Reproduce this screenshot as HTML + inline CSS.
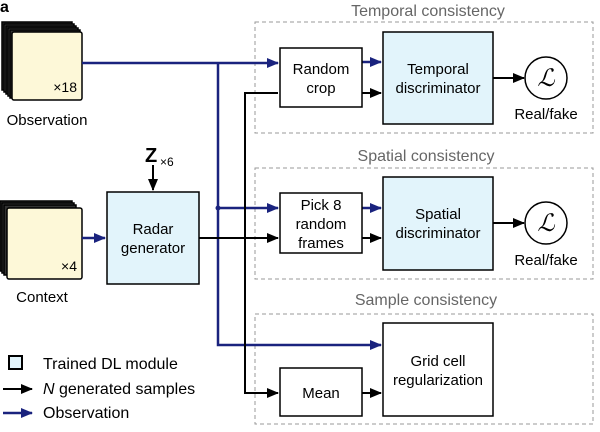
<!DOCTYPE html>
<html><head><style>
body{margin:0;background:#fff;}
svg text{font-family:"Liberation Sans",sans-serif;}
</style></head><body>
<svg width="600" height="427" viewBox="0 0 600 427" xmlns="http://www.w3.org/2000/svg">
<defs>
<marker id="ab" markerWidth="12" markerHeight="10" refX="11" refY="5" orient="auto" markerUnits="userSpaceOnUse"><path d="M0,0 L12,5 L0,10 Z" fill="#000"/></marker>
<marker id="au" markerWidth="12" markerHeight="10" refX="11" refY="5" orient="auto" markerUnits="userSpaceOnUse"><path d="M0,0 L12,5 L0,10 Z" fill="#1a237e"/></marker>
</defs>
<text x="0" y="12" font-size="16" font-weight="bold">a</text>
<g stroke="#000" stroke-width="1.5">
<rect x="2" y="22" width="70" height="68" fill="#333"/>
<rect x="4" y="24" width="70" height="68" fill="#555"/>
<rect x="6" y="26" width="70" height="68" fill="#333"/>
<rect x="8" y="28" width="70" height="68" fill="#555"/>
<rect x="10" y="30" width="70" height="68" fill="#333"/>
<rect x="12" y="32" width="70" height="68" rx="2" fill="#fdf8d8"/>
</g>
<text x="77" y="92" font-size="14" text-anchor="end">×18</text>
<text x="47" y="125" font-size="15" text-anchor="middle">Observation</text>
<g stroke="#000" stroke-width="1.5">
<rect x="0" y="201" width="72" height="70" fill="#333"/>
<rect x="2" y="203" width="72" height="70" fill="#555"/>
<rect x="4" y="205" width="72" height="70" fill="#333"/>
<rect x="7" y="208" width="75" height="71" rx="2" fill="#fdf8d8"/>
</g>
<text x="77" y="271" font-size="14" text-anchor="end">×4</text>
<text x="42" y="302" font-size="15" text-anchor="middle">Context</text>
<text x="145" y="162" font-size="20" font-weight="bold">Z</text>
<text x="160" y="166" font-size="12">×6</text>
<line x1="153" y1="165" x2="153" y2="190" stroke="#000" stroke-width="2" marker-end="url(#ab)"/>
<rect x="107" y="192" width="92" height="92" fill="#e2f4fb" stroke="#000" stroke-width="1.5"/>
<text x="153" y="234" font-size="15" text-anchor="middle">Radar</text>
<text x="153" y="253" font-size="15" text-anchor="middle">generator</text>
<line x1="82" y1="238" x2="105" y2="238" stroke="#1a237e" stroke-width="2.5" marker-end="url(#au)"/>
<g fill="none" stroke="#999" stroke-width="1" stroke-dasharray="4,3">
<rect x="255" y="22" width="338" height="111"/>
<rect x="255" y="168" width="338" height="111"/>
<rect x="255" y="314" width="338" height="110"/>
</g>
<g fill="#666" font-size="16" text-anchor="middle">
<text x="428" y="16">Temporal consistency</text>
<text x="426" y="161">Spatial consistency</text>
<text x="426" y="305">Sample consistency</text>
</g>
<g stroke="#1a237e" stroke-width="2.5" fill="none">
<line x1="82" y1="63" x2="278" y2="63" marker-end="url(#au)"/>
<polyline points="218,63 218,345 381,345" marker-end="url(#au)"/>
<line x1="218" y1="208" x2="278" y2="208" marker-end="url(#au)"/>
<line x1="362" y1="62" x2="381" y2="62" marker-end="url(#au)"/>
<line x1="362" y1="208" x2="381" y2="208" marker-end="url(#au)"/>
</g>
<circle cx="218" cy="208" r="2.5" fill="#1a237e"/>
<g stroke="#000" stroke-width="2" fill="none">
<line x1="199" y1="238" x2="278" y2="238" marker-end="url(#ab)"/>
<polyline points="278,93 245,93 245,393 278,393" marker-end="url(#ab)"/>
<line x1="362" y1="93" x2="381" y2="93" marker-end="url(#ab)"/>
<line x1="362" y1="238" x2="381" y2="238" marker-end="url(#ab)"/>
<line x1="362" y1="393" x2="381" y2="393" marker-end="url(#ab)"/>
<line x1="493" y1="78" x2="524" y2="78" marker-end="url(#ab)"/>
<line x1="493" y1="223" x2="524" y2="223" marker-end="url(#ab)"/>
</g>
<g stroke="#000" stroke-width="1.5">
<rect x="280" y="48" width="82" height="59" fill="#fff"/>
<rect x="383" y="32" width="110" height="92" fill="#e2f4fb"/>
<rect x="280" y="193" width="82" height="60" fill="#fff"/>
<rect x="383" y="177" width="110" height="93" fill="#e2f4fb"/>
<rect x="280" y="368" width="82" height="48" fill="#fff"/>
<rect x="383" y="323" width="110" height="93" fill="#fff"/>
<circle cx="546" cy="78" r="21" fill="#fff"/>
<circle cx="546" cy="223" r="21" fill="#fff"/>
</g>
<g font-size="15" text-anchor="middle">
<text x="321" y="74">Random</text>
<text x="321" y="93">crop</text>
<text x="438" y="74">Temporal</text>
<text x="438" y="93">discriminator</text>
<text x="321" y="210">Pick 8</text>
<text x="321" y="229">random</text>
<text x="321" y="248">frames</text>
<text x="438" y="219">Spatial</text>
<text x="438" y="238">discriminator</text>
<text x="321" y="398">Mean</text>
<text x="438" y="366">Grid cell</text>
<text x="438" y="385">regularization</text>
<text x="546" y="119">Real/fake</text>
<text x="546" y="265">Real/fake</text>
<text x="546" y="86" font-family="Liberation Serif,serif" font-style="italic" font-size="24">ℒ</text>
<text x="546" y="231" font-family="Liberation Serif,serif" font-style="italic" font-size="24">ℒ</text>
</g>
<rect x="9" y="356" width="13" height="13" fill="#e2f4fb" stroke="#000" stroke-width="2"/>
<text x="43" y="369" font-size="16">Trained DL module</text>
<line x1="3" y1="389" x2="32" y2="389" stroke="#000" stroke-width="2" marker-end="url(#ab)"/>
<text x="43" y="394" font-size="16"><tspan font-style="italic">N</tspan> generated samples</text>
<line x1="3" y1="413" x2="32" y2="413" stroke="#1a237e" stroke-width="2.5" marker-end="url(#au)"/>
<text x="43" y="418" font-size="16">Observation</text>
</svg>
</body></html>
